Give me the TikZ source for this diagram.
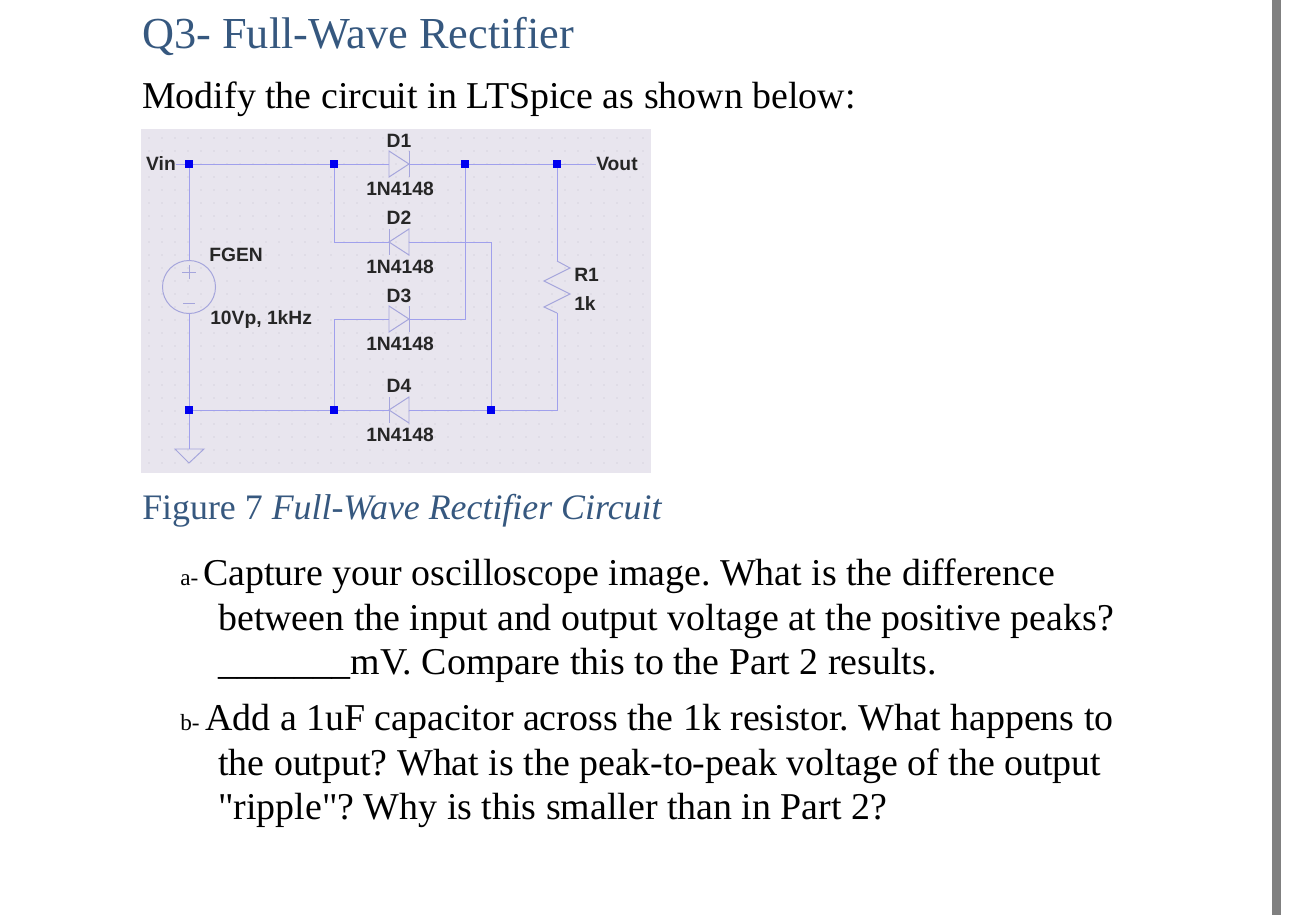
\documentclass[tikz,border=0pt]{standalone}
\usepackage{fontspec}
\setmainfont{Liberation Serif}[Ligatures=TeXOff]
\setsansfont{Liberation Sans}
\frenchspacing
\definecolor{headblue}{HTML}{36587F}
\definecolor{schembg}{HTML}{E8E5EE}
\definecolor{griddot}{HTML}{C4C2CC}
\definecolor{wireblue}{HTML}{A0A0EC}
\definecolor{symblue}{HTML}{A5A5DC}
\definecolor{junctionblue}{HTML}{0000F0}
\definecolor{bargray}{HTML}{808080}
\begin{document}
\begin{tikzpicture}[x=0.025cm,y=-0.025cm,
  head node/.style={anchor=base west,inner sep=0pt,text=headblue,font=\fontsize{31.5}{34}\selectfont},
  body node/.style={anchor=base west,inner sep=0pt,font=\fontsize{26.95}{30}\selectfont},
  small node/.style={anchor=base west,inner sep=0pt,font=\fontsize{16.5}{18}\selectfont},
  label node/.style={inner sep=0pt,font=\sffamily\bfseries\fontsize{13.7}{15}\selectfont,text=black!85},
  junction/.style={rectangle,fill=junctionblue,inner sep=0pt,minimum size=5pt},
  wire/.style={wireblue,line width=0.7pt},
  symbol/.style={symblue,line width=0.7pt,line join=miter}]

  \useasboundingbox (0,0) rectangle (1290,915);
  \fill[white] (0,0) rectangle (1290,915);
  \fill[bargray] (1272,0) rectangle (1281,915);

  % text
  \node[head node] (title) at (142,48) {Q3- Full-Wave Rectifier};
  \node[body node] (intro) at (142,108) {Modify the circuit in LTSpice as shown below:};
  \node[head node,font=\fontsize{25.5}{28}\selectfont] (caption) at (142,519) {Figure 7 \textit{Full-Wave Rectifier Circuit}};

  \node[small node] (amark) at (180,585) {a-};
  \node[body node] (a1) at (203,585) {Capture your oscilloscope image. What is the difference};
  \node[body node] (a2) at (218,630) {between the input and output voltage at the positive peaks?};
  \node[body node] (a3) at (218,674) {\_\_\_\_\_\_\_mV. Compare this to the Part 2 results.};
  \node[small node] (bmark) at (180,730) {b-};
  \node[body node] (b1) at (205,730) {Add a 1uF capacitor across the 1k resistor. What happens to};
  \node[body node] (b2) at (218,775) {the output? What is the peak-to-peak voltage of the output};
  \node[body node] (b3) at (218,819) {"ripple"? Why is this smaller than in Part 2?};

  % schematic
  \fill[schembg] (141,129) rectangle (651,473);
  \foreach \i in {0,...,38}
    \foreach \j in {0,...,25}
      \fill[griddot] (149+13*\i,138+13*\j) circle (0.4pt);

  \node[junction] (vin) at (189,164) {};
  \node[junction] (top1) at (334,164) {};
  \node[junction] (top2) at (465,164) {};
  \node[junction] (top3) at (557,164) {};
  \node[junction] (bot1) at (189,410) {};
  \node[junction] (bot2) at (334,410) {};
  \node[junction] (bot3) at (491,410) {};

  % diodes: a is the anode side, c the cathode side
  \foreach \name/\ypos in {d1/164,d3/319} {
    \coordinate (\name a) at (389,\ypos);
    \coordinate (\name c) at (409,\ypos);
    \draw[symbol] (389,\ypos-13) -- (409,\ypos) -- (389,\ypos+13) -- cycle;
    \draw[symbol] (409,\ypos-13) -- (409,\ypos+13);
  }
  \foreach \name/\ypos in {d2/242,d4/410} {
    \coordinate (\name a) at (409,\ypos);
    \coordinate (\name c) at (389,\ypos);
    \draw[symbol] (409,\ypos-13) -- (389,\ypos) -- (409,\ypos+13) -- cycle;
    \draw[symbol] (389,\ypos-13) -- (389,\ypos+13);
  }

  % source
  \node[circle,draw=symblue,line width=0.7pt,minimum size=53*0.7113pt,inner sep=0pt] (fgen) at (189,287) {};
  \draw[symbol] (182,272) -- (196,272);
  \draw[symbol] (189,265) -- (189,279);
  \draw[symbol] (183,303) -- (195,303);

  % ground
  \coordinate (gnd) at (189,449);
  \draw[symbol] (gnd) -- (175,449) -- (189,463) -- (204,449) -- cycle;

  % resistor
  \coordinate (rtop) at (557,261);
  \coordinate (rbot) at (557,313);
  \draw[symbol] (rtop) -- (570,268) -- (544,281) -- (570,294) -- (544,307) -- (rbot);

  % labels
  \node[label node] (vinlabel) at (161,164) {Vin};
  \node[label node,anchor=west] (voutlabel) at (596,164) {Vout};
  \node[label node] (d1name) at (399,141) {D1};
  \node[label node] (d1val) at (400,189) {1N4148};
  \node[label node] (d2name) at (399,218) {D2};
  \node[label node] (d2val) at (400,267) {1N4148};
  \node[label node] (d3name) at (399,296) {D3};
  \node[label node] (d3val) at (400,344) {1N4148};
  \node[label node] (d4name) at (399,386) {D4};
  \node[label node] (d4val) at (400,435) {1N4148};
  \node[label node,anchor=west] (fgenname) at (209,255) {FGEN};
  \node[label node,anchor=west] (fgenval) at (210,320) {10Vp, 1kHz};
  \node[label node,anchor=west] (r1name) at (574,275) {R1};
  \node[label node,anchor=west] (r1val) at (574,304) {1k};

  % wires
  \draw[wire] (vinlabel) -- (vin);
  \draw[wire] (vin) -- (top1);
  \draw[wire] (top1) -- (d1a);
  \draw[wire] (d1c) -- (top2);
  \draw[wire] (top2) -- (top3);
  \draw[wire] (top3) -- (voutlabel);
  \draw[wire] (vin) -- (fgen);
  \draw[wire] (fgen) -- (bot1);
  \draw[wire] (bot1) -- (gnd);
  \draw[wire] (bot1) -- (bot2);
  \draw[wire] (bot2) -- (d4c);
  \draw[wire] (d4a) -- (bot3);
  \draw[wire] (top1) |- (d2c);
  \draw[wire] (d2a) -| (bot3);
  \draw[wire] (top2) |- (d3c);
  \draw[wire] (bot2) |- (d3a);
  \draw[wire] (top3) -- (rtop);
  \draw[wire] (rbot) |- (bot3);
\end{tikzpicture}
\end{document}
